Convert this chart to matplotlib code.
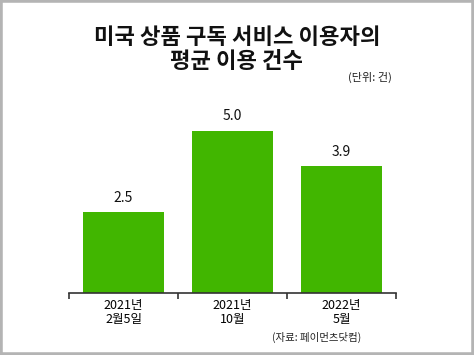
import matplotlib.pyplot as plt
from matplotlib.patches import Rectangle

plt.rcParams['font.family'] = ['Noto Sans CJK KR', 'DejaVu Sans']

# data
categories = ["2021년\n2월5일", "2021년\n10월", "2022년\n5월"]
values = [2.5, 5.0, 3.9]
value_labels = ["2.5", "5.0", "3.9"]

W, H = 474, 355
fig = plt.figure(figsize=(W / 100, H / 100), dpi=100)

# axes: x 69..396 px, baseline y=293 px
ax = fig.add_axes([69 / W, 62 / H, 327 / W, 195 / H])
x = range(len(values))
ax.bar(x, values, width=0.745, color="#41b600")
ax.set_xlim(-0.5, 2.5)
ax.set_ylim(0, 6.0)

for xi, v, lab in zip(x, values, value_labels):
    ax.text(xi, v + 0.22, lab, ha="center", va="bottom", fontsize=10, color="#111111")

for s in ["top", "right", "left"]:
    ax.spines[s].set_visible(False)
ax.spines["bottom"].set_color("#333333")
ax.spines["bottom"].set_linewidth(1.2)
ax.set_yticks([])
ax.set_xticks([-0.5, 0.5, 1.5, 2.5])
ax.set_xticklabels([])
ax.tick_params(axis="x", length=4, width=1.2, color="#333333")
ax.set_xticks(list(x), minor=True)
ax.set_xticklabels(categories, minor=True, fontsize=9, linespacing=1.15)
ax.tick_params(axis="x", which="minor", length=0, pad=4)

fig.text(237 / W, 1 - 37 / H, "미국 상품 구독 서비스 이용자의", ha="center", va="center",
         fontsize=16, fontweight="bold", color="#111111")
fig.text(237 / W, 1 - 62 / H, "평균 이용 건수", ha="center", va="center",
         fontsize=16, fontweight="bold", color="#111111")
fig.text(392 / W, 1 - 77 / H, "(단위: 건)", ha="right", va="center", fontsize=8, color="#222222")
fig.text(361 / W, 1 - 337 / H, "(자료: 페이먼츠닷컴)", ha="right", va="center", fontsize=7.5,
         color="#222222")

# gray frame
fig.patches.append(Rectangle((0, 0), 1, 1, transform=fig.transFigure, fill=False,
                             edgecolor="#b4b4b4", linewidth=4))

fig.savefig("out.png", dpi=100)
